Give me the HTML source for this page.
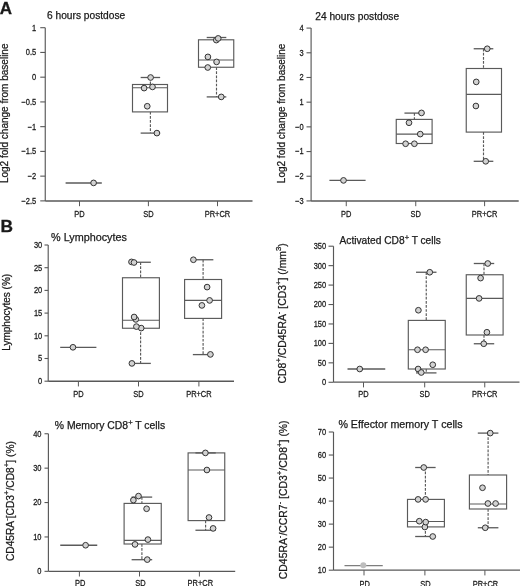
<!DOCTYPE html>
<html><head><meta charset="utf-8"><title>Figure</title>
<style>
html,body{margin:0;padding:0;background:#fff;}
body{width:520px;height:586px;overflow:hidden;}
svg{display:block;}
text{font-family:'Liberation Sans', Arial, Helvetica, sans-serif;fill:#1a1a1a;stroke:#1a1a1a;stroke-width:0.25px;}
</style></head>
<body>
<svg width="520" height="586" viewBox="0 0 520 586">
<rect width="520" height="586" fill="#fff"/>
<text x="-0.20" y="13.60" font-size="17" text-anchor="start" font-weight="bold" style="stroke-width:0.3px">A</text>
<text x="0.60" y="232.20" font-size="17.3" text-anchor="start" font-weight="bold" style="stroke-width:0.3px">B</text>
<line x1="45.25" y1="27.70" x2="45.25" y2="201.00" stroke="#585858" stroke-width="1.15"/>
<line x1="45.25" y1="201.00" x2="252.50" y2="201.00" stroke="#585858" stroke-width="1.3"/>
<line x1="40.25" y1="27.70" x2="45.25" y2="27.70" stroke="#585858" stroke-width="1.1"/>
<text x="0" y="0" font-size="8.4" text-anchor="end" transform="translate(36.20,30.60) scale(0.89,1)">1</text>
<line x1="40.25" y1="52.44" x2="45.25" y2="52.44" stroke="#585858" stroke-width="1.1"/>
<text x="0" y="0" font-size="8.4" text-anchor="end" transform="translate(36.20,55.34) scale(0.89,1)">0.5</text>
<line x1="40.25" y1="77.18" x2="45.25" y2="77.18" stroke="#585858" stroke-width="1.1"/>
<text x="0" y="0" font-size="8.4" text-anchor="end" transform="translate(36.20,80.08) scale(0.89,1)">0</text>
<line x1="40.25" y1="101.92" x2="45.25" y2="101.92" stroke="#585858" stroke-width="1.1"/>
<text x="0" y="0" font-size="8.4" text-anchor="end" transform="translate(36.20,104.82) scale(0.89,1)">−0.5</text>
<line x1="40.25" y1="126.66" x2="45.25" y2="126.66" stroke="#585858" stroke-width="1.1"/>
<text x="0" y="0" font-size="8.4" text-anchor="end" transform="translate(36.20,129.56) scale(0.89,1)">−1</text>
<line x1="40.25" y1="151.40" x2="45.25" y2="151.40" stroke="#585858" stroke-width="1.1"/>
<text x="0" y="0" font-size="8.4" text-anchor="end" transform="translate(36.20,154.30) scale(0.89,1)">−1.5</text>
<line x1="40.25" y1="176.14" x2="45.25" y2="176.14" stroke="#585858" stroke-width="1.1"/>
<text x="0" y="0" font-size="8.4" text-anchor="end" transform="translate(36.20,179.04) scale(0.89,1)">−2</text>
<line x1="40.25" y1="200.88" x2="45.25" y2="200.88" stroke="#585858" stroke-width="1.1"/>
<text x="0" y="0" font-size="8.4" text-anchor="end" transform="translate(36.20,203.78) scale(0.89,1)">−2.5</text>
<line x1="79.50" y1="201.00" x2="79.50" y2="206.20" stroke="#585858" stroke-width="1.0"/>
<text x="0" y="0" font-size="8.4" text-anchor="middle" transform="translate(79.50,217.10) scale(0.89,1)">PD</text>
<line x1="148.40" y1="201.00" x2="148.40" y2="206.20" stroke="#585858" stroke-width="1.0"/>
<text x="0" y="0" font-size="8.4" text-anchor="middle" transform="translate(148.40,217.10) scale(0.89,1)">SD</text>
<line x1="217.50" y1="201.00" x2="217.50" y2="206.20" stroke="#585858" stroke-width="1.0"/>
<text x="0" y="0" font-size="8.4" text-anchor="middle" transform="translate(217.50,217.10) scale(0.89,1)">PR+CR</text>
<text x="47.00" y="18.80" font-size="10.2" text-anchor="start" font-weight="normal">6 hours postdose</text>
<text x="0" y="0" font-size="10" text-anchor="middle" transform="translate(7.90,113.30) rotate(-90)">Log2 fold change from baseline</text>
<line x1="65.60" y1="183.00" x2="101.80" y2="183.00" stroke="#5a5a5a" stroke-width="1.3"/>
<circle cx="93.60" cy="182.90" r="2.85" fill="#d2d2d2" stroke="#333333" stroke-width="1.0"/>
<line x1="150.40" y1="77.50" x2="150.40" y2="84.50" stroke="#5a5a5a" stroke-width="1.15" stroke-dasharray="2.7 1.4"/>
<line x1="140.65" y1="77.50" x2="160.15" y2="77.50" stroke="#5a5a5a" stroke-width="1.3"/>
<line x1="150.40" y1="111.90" x2="150.40" y2="133.10" stroke="#5a5a5a" stroke-width="1.15" stroke-dasharray="2.7 1.4"/>
<line x1="140.65" y1="133.10" x2="160.15" y2="133.10" stroke="#5a5a5a" stroke-width="1.3"/>
<rect x="132.50" y="84.50" width="35.00" height="27.40" fill="none" stroke="#5a5a5a" stroke-width="1.15"/>
<line x1="132.50" y1="87.75" x2="167.50" y2="87.75" stroke="#5a5a5a" stroke-width="1.2"/>
<circle cx="150.60" cy="77.50" r="2.85" fill="#d2d2d2" stroke="#333333" stroke-width="1.0"/>
<circle cx="144.10" cy="88.10" r="2.85" fill="#d2d2d2" stroke="#333333" stroke-width="1.0"/>
<circle cx="152.50" cy="86.90" r="2.85" fill="#d2d2d2" stroke="#333333" stroke-width="1.0"/>
<circle cx="147.25" cy="106.25" r="2.85" fill="#d2d2d2" stroke="#333333" stroke-width="1.0"/>
<circle cx="156.90" cy="133.10" r="2.85" fill="#d2d2d2" stroke="#333333" stroke-width="1.0"/>
<line x1="216.50" y1="37.50" x2="216.50" y2="39.80" stroke="#5a5a5a" stroke-width="1.15" stroke-dasharray="2.7 1.4"/>
<line x1="206.69" y1="37.50" x2="226.31" y2="37.50" stroke="#5a5a5a" stroke-width="1.3"/>
<line x1="216.50" y1="67.25" x2="216.50" y2="96.90" stroke="#5a5a5a" stroke-width="1.15" stroke-dasharray="2.7 1.4"/>
<line x1="206.69" y1="96.90" x2="226.31" y2="96.90" stroke="#5a5a5a" stroke-width="1.3"/>
<rect x="198.50" y="39.80" width="35.25" height="27.45" fill="none" stroke="#5a5a5a" stroke-width="1.15"/>
<line x1="198.50" y1="60.00" x2="233.75" y2="60.00" stroke="#5a5a5a" stroke-width="1.2"/>
<circle cx="216.30" cy="40.10" r="2.85" fill="#d2d2d2" stroke="#333333" stroke-width="1.0"/>
<circle cx="218.20" cy="38.40" r="2.85" fill="#d2d2d2" stroke="#333333" stroke-width="1.0"/>
<circle cx="207.90" cy="56.90" r="2.85" fill="#d2d2d2" stroke="#333333" stroke-width="1.0"/>
<circle cx="216.60" cy="61.90" r="2.85" fill="#d2d2d2" stroke="#333333" stroke-width="1.0"/>
<circle cx="207.75" cy="67.50" r="2.85" fill="#d2d2d2" stroke="#333333" stroke-width="1.0"/>
<circle cx="221.25" cy="96.90" r="2.85" fill="#d2d2d2" stroke="#333333" stroke-width="1.0"/>
<line x1="311.10" y1="28.10" x2="311.10" y2="201.00" stroke="#585858" stroke-width="1.15"/>
<line x1="311.10" y1="201.00" x2="518.70" y2="201.00" stroke="#585858" stroke-width="1.3"/>
<line x1="306.50" y1="28.10" x2="311.10" y2="28.10" stroke="#585858" stroke-width="1.1"/>
<text x="0" y="0" font-size="8.4" text-anchor="end" transform="translate(303.70,31.00) scale(0.89,1)">4</text>
<line x1="306.50" y1="52.79" x2="311.10" y2="52.79" stroke="#585858" stroke-width="1.1"/>
<text x="0" y="0" font-size="8.4" text-anchor="end" transform="translate(303.70,55.69) scale(0.89,1)">3</text>
<line x1="306.50" y1="77.48" x2="311.10" y2="77.48" stroke="#585858" stroke-width="1.1"/>
<text x="0" y="0" font-size="8.4" text-anchor="end" transform="translate(303.70,80.38) scale(0.89,1)">2</text>
<line x1="306.50" y1="102.17" x2="311.10" y2="102.17" stroke="#585858" stroke-width="1.1"/>
<text x="0" y="0" font-size="8.4" text-anchor="end" transform="translate(303.70,105.07) scale(0.89,1)">1</text>
<line x1="306.50" y1="126.86" x2="311.10" y2="126.86" stroke="#585858" stroke-width="1.1"/>
<text x="0" y="0" font-size="8.4" text-anchor="end" transform="translate(303.70,129.76) scale(0.89,1)">−0</text>
<line x1="306.50" y1="151.55" x2="311.10" y2="151.55" stroke="#585858" stroke-width="1.1"/>
<text x="0" y="0" font-size="8.4" text-anchor="end" transform="translate(303.70,154.45) scale(0.89,1)">−1</text>
<line x1="306.50" y1="176.24" x2="311.10" y2="176.24" stroke="#585858" stroke-width="1.1"/>
<text x="0" y="0" font-size="8.4" text-anchor="end" transform="translate(303.70,179.14) scale(0.89,1)">−2</text>
<line x1="306.50" y1="200.93" x2="311.10" y2="200.93" stroke="#585858" stroke-width="1.1"/>
<text x="0" y="0" font-size="8.4" text-anchor="end" transform="translate(303.70,203.83) scale(0.89,1)">−3</text>
<line x1="346.25" y1="201.00" x2="346.25" y2="206.20" stroke="#585858" stroke-width="1.0"/>
<text x="0" y="0" font-size="8.4" text-anchor="middle" transform="translate(346.25,216.90) scale(0.89,1)">PD</text>
<line x1="415.75" y1="201.00" x2="415.75" y2="206.20" stroke="#585858" stroke-width="1.0"/>
<text x="0" y="0" font-size="8.4" text-anchor="middle" transform="translate(415.75,216.90) scale(0.89,1)">SD</text>
<line x1="484.60" y1="201.00" x2="484.60" y2="206.20" stroke="#585858" stroke-width="1.0"/>
<text x="0" y="0" font-size="8.4" text-anchor="middle" transform="translate(484.60,216.90) scale(0.89,1)">PR+CR</text>
<text x="315.30" y="19.70" font-size="10.2" text-anchor="start" font-weight="normal">24 hours postdose</text>
<text x="0" y="0" font-size="10" text-anchor="middle" transform="translate(285.10,113.40) rotate(-90)">Log2 fold change from baseline</text>
<line x1="329.40" y1="180.40" x2="365.60" y2="180.40" stroke="#5a5a5a" stroke-width="1.3"/>
<circle cx="343.50" cy="180.40" r="2.85" fill="#d2d2d2" stroke="#333333" stroke-width="1.0"/>
<line x1="414.40" y1="113.10" x2="414.40" y2="119.40" stroke="#5a5a5a" stroke-width="1.15" stroke-dasharray="2.7 1.4"/>
<line x1="404.44" y1="113.10" x2="424.36" y2="113.10" stroke="#5a5a5a" stroke-width="1.3"/>
<rect x="396.25" y="119.40" width="35.85" height="24.10" fill="none" stroke="#5a5a5a" stroke-width="1.15"/>
<line x1="396.25" y1="134.10" x2="432.10" y2="134.10" stroke="#5a5a5a" stroke-width="1.2"/>
<circle cx="421.50" cy="112.90" r="2.85" fill="#d2d2d2" stroke="#333333" stroke-width="1.0"/>
<circle cx="409.00" cy="122.75" r="2.85" fill="#d2d2d2" stroke="#333333" stroke-width="1.0"/>
<circle cx="420.25" cy="134.10" r="2.85" fill="#d2d2d2" stroke="#333333" stroke-width="1.0"/>
<circle cx="405.60" cy="143.75" r="2.85" fill="#d2d2d2" stroke="#333333" stroke-width="1.0"/>
<circle cx="414.40" cy="143.75" r="2.85" fill="#d2d2d2" stroke="#333333" stroke-width="1.0"/>
<line x1="483.50" y1="48.75" x2="483.50" y2="68.50" stroke="#5a5a5a" stroke-width="1.15" stroke-dasharray="2.7 1.4"/>
<line x1="473.69" y1="48.75" x2="493.31" y2="48.75" stroke="#5a5a5a" stroke-width="1.3"/>
<line x1="483.50" y1="132.10" x2="483.50" y2="161.30" stroke="#5a5a5a" stroke-width="1.15" stroke-dasharray="2.7 1.4"/>
<line x1="473.69" y1="161.30" x2="493.31" y2="161.30" stroke="#5a5a5a" stroke-width="1.3"/>
<rect x="466.25" y="68.50" width="35.25" height="63.60" fill="none" stroke="#5a5a5a" stroke-width="1.15"/>
<line x1="466.25" y1="94.40" x2="501.50" y2="94.40" stroke="#5a5a5a" stroke-width="1.2"/>
<circle cx="487.25" cy="48.75" r="2.85" fill="#d2d2d2" stroke="#333333" stroke-width="1.0"/>
<circle cx="476.25" cy="81.90" r="2.85" fill="#d2d2d2" stroke="#333333" stroke-width="1.0"/>
<circle cx="475.90" cy="106.00" r="2.85" fill="#d2d2d2" stroke="#333333" stroke-width="1.0"/>
<circle cx="485.70" cy="161.30" r="2.85" fill="#d2d2d2" stroke="#333333" stroke-width="1.0"/>
<line x1="48.20" y1="245.00" x2="48.20" y2="381.25" stroke="#585858" stroke-width="1.15"/>
<line x1="48.20" y1="381.25" x2="234.00" y2="381.25" stroke="#585858" stroke-width="1.3"/>
<line x1="44.50" y1="245.00" x2="48.20" y2="245.00" stroke="#585858" stroke-width="1.1"/>
<text x="0" y="0" font-size="8.4" text-anchor="end" transform="translate(42.20,247.90) scale(0.89,1)">30</text>
<line x1="44.50" y1="267.70" x2="48.20" y2="267.70" stroke="#585858" stroke-width="1.1"/>
<text x="0" y="0" font-size="8.4" text-anchor="end" transform="translate(42.20,270.60) scale(0.89,1)">25</text>
<line x1="44.50" y1="290.40" x2="48.20" y2="290.40" stroke="#585858" stroke-width="1.1"/>
<text x="0" y="0" font-size="8.4" text-anchor="end" transform="translate(42.20,293.30) scale(0.89,1)">20</text>
<line x1="44.50" y1="313.10" x2="48.20" y2="313.10" stroke="#585858" stroke-width="1.1"/>
<text x="0" y="0" font-size="8.4" text-anchor="end" transform="translate(42.20,316.00) scale(0.89,1)">15</text>
<line x1="44.50" y1="335.80" x2="48.20" y2="335.80" stroke="#585858" stroke-width="1.1"/>
<text x="0" y="0" font-size="8.4" text-anchor="end" transform="translate(42.20,338.70) scale(0.89,1)">10</text>
<line x1="44.50" y1="358.50" x2="48.20" y2="358.50" stroke="#585858" stroke-width="1.1"/>
<text x="0" y="0" font-size="8.4" text-anchor="end" transform="translate(42.20,361.40) scale(0.89,1)">5</text>
<line x1="44.50" y1="381.20" x2="48.20" y2="381.20" stroke="#585858" stroke-width="1.1"/>
<text x="0" y="0" font-size="8.4" text-anchor="end" transform="translate(42.20,384.10) scale(0.89,1)">0</text>
<line x1="78.40" y1="381.25" x2="78.40" y2="386.45" stroke="#585858" stroke-width="1.0"/>
<text x="0" y="0" font-size="8.4" text-anchor="middle" transform="translate(78.40,396.50) scale(0.89,1)">PD</text>
<line x1="138.50" y1="381.25" x2="138.50" y2="386.45" stroke="#585858" stroke-width="1.0"/>
<text x="0" y="0" font-size="8.4" text-anchor="middle" transform="translate(138.50,396.50) scale(0.89,1)">SD</text>
<line x1="198.90" y1="381.25" x2="198.90" y2="386.45" stroke="#585858" stroke-width="1.0"/>
<text x="0" y="0" font-size="8.4" text-anchor="middle" transform="translate(198.90,396.50) scale(0.89,1)">PR+CR</text>
<text x="51.10" y="240.60" font-size="10.8" text-anchor="start" font-weight="normal">% Lymphocytes</text>
<text x="0" y="0" font-size="10" text-anchor="middle" transform="translate(9.90,312.30) rotate(-90)">Lymphocytes (%)</text>
<line x1="60.20" y1="347.30" x2="96.40" y2="347.30" stroke="#5a5a5a" stroke-width="1.3"/>
<circle cx="72.95" cy="347.30" r="2.85" fill="#d2d2d2" stroke="#333333" stroke-width="1.0"/>
<line x1="140.60" y1="262.25" x2="140.60" y2="277.75" stroke="#5a5a5a" stroke-width="1.15" stroke-dasharray="2.7 1.4"/>
<line x1="130.38" y1="262.25" x2="150.82" y2="262.25" stroke="#5a5a5a" stroke-width="1.3"/>
<line x1="140.60" y1="328.25" x2="140.60" y2="363.40" stroke="#5a5a5a" stroke-width="1.15" stroke-dasharray="2.7 1.4"/>
<line x1="130.38" y1="363.40" x2="150.82" y2="363.40" stroke="#5a5a5a" stroke-width="1.3"/>
<rect x="122.50" y="277.75" width="36.90" height="50.50" fill="none" stroke="#5a5a5a" stroke-width="1.15"/>
<line x1="122.50" y1="320.25" x2="159.40" y2="320.25" stroke="#5a5a5a" stroke-width="1.2"/>
<circle cx="131.50" cy="261.90" r="2.85" fill="#d2d2d2" stroke="#333333" stroke-width="1.0"/>
<circle cx="134.00" cy="262.50" r="2.85" fill="#d2d2d2" stroke="#333333" stroke-width="1.0"/>
<circle cx="135.80" cy="319.40" r="2.85" fill="#d2d2d2" stroke="#333333" stroke-width="1.0"/>
<circle cx="134.10" cy="317.00" r="2.85" fill="#d2d2d2" stroke="#333333" stroke-width="1.0"/>
<circle cx="141.20" cy="328.10" r="2.85" fill="#d2d2d2" stroke="#333333" stroke-width="1.0"/>
<circle cx="136.40" cy="326.60" r="2.85" fill="#d2d2d2" stroke="#333333" stroke-width="1.0"/>
<circle cx="131.90" cy="363.40" r="2.85" fill="#d2d2d2" stroke="#333333" stroke-width="1.0"/>
<line x1="203.10" y1="259.75" x2="203.10" y2="279.50" stroke="#5a5a5a" stroke-width="1.15" stroke-dasharray="2.7 1.4"/>
<line x1="192.85" y1="259.75" x2="213.35" y2="259.75" stroke="#5a5a5a" stroke-width="1.3"/>
<line x1="203.10" y1="318.40" x2="203.10" y2="354.60" stroke="#5a5a5a" stroke-width="1.15" stroke-dasharray="2.7 1.4"/>
<line x1="192.85" y1="354.60" x2="213.35" y2="354.60" stroke="#5a5a5a" stroke-width="1.3"/>
<rect x="184.60" y="279.50" width="37.00" height="38.90" fill="none" stroke="#5a5a5a" stroke-width="1.15"/>
<line x1="184.60" y1="300.40" x2="221.60" y2="300.40" stroke="#5a5a5a" stroke-width="1.2"/>
<circle cx="193.40" cy="259.75" r="2.85" fill="#d2d2d2" stroke="#333333" stroke-width="1.0"/>
<circle cx="207.10" cy="287.10" r="2.85" fill="#d2d2d2" stroke="#333333" stroke-width="1.0"/>
<circle cx="209.60" cy="300.40" r="2.85" fill="#d2d2d2" stroke="#333333" stroke-width="1.0"/>
<circle cx="201.90" cy="305.40" r="2.85" fill="#d2d2d2" stroke="#333333" stroke-width="1.0"/>
<circle cx="210.40" cy="354.40" r="2.85" fill="#d2d2d2" stroke="#333333" stroke-width="1.0"/>
<line x1="333.50" y1="246.20" x2="333.50" y2="382.20" stroke="#585858" stroke-width="1.15"/>
<line x1="333.50" y1="382.20" x2="519.50" y2="382.20" stroke="#585858" stroke-width="1.3"/>
<line x1="328.50" y1="246.20" x2="333.50" y2="246.20" stroke="#585858" stroke-width="1.1"/>
<text x="0" y="0" font-size="8.4" text-anchor="end" transform="translate(326.10,249.10) scale(0.89,1)">350</text>
<line x1="328.50" y1="265.64" x2="333.50" y2="265.64" stroke="#585858" stroke-width="1.1"/>
<text x="0" y="0" font-size="8.4" text-anchor="end" transform="translate(326.10,268.54) scale(0.89,1)">300</text>
<line x1="328.50" y1="285.08" x2="333.50" y2="285.08" stroke="#585858" stroke-width="1.1"/>
<text x="0" y="0" font-size="8.4" text-anchor="end" transform="translate(326.10,287.98) scale(0.89,1)">250</text>
<line x1="328.50" y1="304.52" x2="333.50" y2="304.52" stroke="#585858" stroke-width="1.1"/>
<text x="0" y="0" font-size="8.4" text-anchor="end" transform="translate(326.10,307.42) scale(0.89,1)">200</text>
<line x1="328.50" y1="323.96" x2="333.50" y2="323.96" stroke="#585858" stroke-width="1.1"/>
<text x="0" y="0" font-size="8.4" text-anchor="end" transform="translate(326.10,326.86) scale(0.89,1)">150</text>
<line x1="328.50" y1="343.40" x2="333.50" y2="343.40" stroke="#585858" stroke-width="1.1"/>
<text x="0" y="0" font-size="8.4" text-anchor="end" transform="translate(326.10,346.30) scale(0.89,1)">100</text>
<line x1="328.50" y1="362.84" x2="333.50" y2="362.84" stroke="#585858" stroke-width="1.1"/>
<text x="0" y="0" font-size="8.4" text-anchor="end" transform="translate(326.10,365.74) scale(0.89,1)">50</text>
<line x1="328.50" y1="382.28" x2="333.50" y2="382.28" stroke="#585858" stroke-width="1.1"/>
<text x="0" y="0" font-size="8.4" text-anchor="end" transform="translate(326.10,385.18) scale(0.89,1)">0</text>
<line x1="363.50" y1="382.20" x2="363.50" y2="387.40" stroke="#585858" stroke-width="1.0"/>
<text x="0" y="0" font-size="8.4" text-anchor="middle" transform="translate(363.50,396.50) scale(0.89,1)">PD</text>
<line x1="424.70" y1="382.20" x2="424.70" y2="387.40" stroke="#585858" stroke-width="1.0"/>
<text x="0" y="0" font-size="8.4" text-anchor="middle" transform="translate(424.70,396.50) scale(0.89,1)">SD</text>
<line x1="484.75" y1="382.20" x2="484.75" y2="387.40" stroke="#585858" stroke-width="1.0"/>
<text x="0" y="0" font-size="8.4" text-anchor="middle" transform="translate(484.75,396.50) scale(0.89,1)">PR+CR</text>
<text x="339.50" y="243.90" font-size="10.2" text-anchor="start" font-weight="normal">Activated CD8<tspan font-size="7.5" dy="-4.0">+</tspan><tspan dy="4.0"> T cells</tspan></text>
<text x="0" y="0" font-size="10.4" text-anchor="middle" transform="translate(285.80,313.30) rotate(-90)">CD8<tspan font-size="7.8" dy="-4.6">+</tspan><tspan dy="4.6">/CD45RA</tspan><tspan font-size="7.8" dy="-4.6">-</tspan><tspan dy="4.6"> [CD3</tspan><tspan font-size="7.8" dy="-4.6">+</tspan><tspan dy="4.6">] (/mm</tspan><tspan font-size="7.8" dy="-4.6">3</tspan><tspan dy="4.6">)</tspan></text>
<line x1="347.50" y1="369.00" x2="385.25" y2="369.00" stroke="#5a5a5a" stroke-width="1.3"/>
<circle cx="359.75" cy="369.00" r="2.85" fill="#d2d2d2" stroke="#333333" stroke-width="1.0"/>
<line x1="426.25" y1="272.25" x2="426.25" y2="320.40" stroke="#5a5a5a" stroke-width="1.15" stroke-dasharray="2.7 1.4"/>
<line x1="416.01" y1="272.25" x2="436.49" y2="272.25" stroke="#5a5a5a" stroke-width="1.3"/>
<line x1="426.25" y1="369.00" x2="426.25" y2="372.90" stroke="#5a5a5a" stroke-width="1.15" stroke-dasharray="2.7 1.4"/>
<line x1="416.01" y1="372.90" x2="436.49" y2="372.90" stroke="#5a5a5a" stroke-width="1.3"/>
<rect x="408.30" y="320.40" width="36.95" height="48.60" fill="none" stroke="#5a5a5a" stroke-width="1.15"/>
<line x1="408.30" y1="349.75" x2="445.25" y2="349.75" stroke="#5a5a5a" stroke-width="1.2"/>
<circle cx="429.75" cy="272.25" r="2.85" fill="#d2d2d2" stroke="#333333" stroke-width="1.0"/>
<circle cx="418.40" cy="310.25" r="2.85" fill="#d2d2d2" stroke="#333333" stroke-width="1.0"/>
<circle cx="417.50" cy="349.75" r="2.85" fill="#d2d2d2" stroke="#333333" stroke-width="1.0"/>
<circle cx="425.60" cy="349.75" r="2.85" fill="#d2d2d2" stroke="#333333" stroke-width="1.0"/>
<circle cx="432.75" cy="364.75" r="2.85" fill="#d2d2d2" stroke="#333333" stroke-width="1.0"/>
<circle cx="418.10" cy="369.00" r="2.85" fill="#d2d2d2" stroke="#333333" stroke-width="1.0"/>
<circle cx="421.25" cy="372.50" r="2.85" fill="#d2d2d2" stroke="#333333" stroke-width="1.0"/>
<line x1="484.00" y1="263.50" x2="484.00" y2="274.75" stroke="#5a5a5a" stroke-width="1.15" stroke-dasharray="2.7 1.4"/>
<line x1="473.79" y1="263.50" x2="494.21" y2="263.50" stroke="#5a5a5a" stroke-width="1.3"/>
<line x1="484.00" y1="335.00" x2="484.00" y2="343.75" stroke="#5a5a5a" stroke-width="1.15" stroke-dasharray="2.7 1.4"/>
<line x1="473.79" y1="343.75" x2="494.21" y2="343.75" stroke="#5a5a5a" stroke-width="1.3"/>
<rect x="466.25" y="274.75" width="36.85" height="60.25" fill="none" stroke="#5a5a5a" stroke-width="1.15"/>
<line x1="466.25" y1="298.40" x2="503.10" y2="298.40" stroke="#5a5a5a" stroke-width="1.2"/>
<circle cx="487.75" cy="263.50" r="2.85" fill="#d2d2d2" stroke="#333333" stroke-width="1.0"/>
<circle cx="480.60" cy="278.10" r="2.85" fill="#d2d2d2" stroke="#333333" stroke-width="1.0"/>
<circle cx="479.10" cy="298.40" r="2.85" fill="#d2d2d2" stroke="#333333" stroke-width="1.0"/>
<circle cx="486.90" cy="332.25" r="2.85" fill="#d2d2d2" stroke="#333333" stroke-width="1.0"/>
<circle cx="483.75" cy="343.75" r="2.85" fill="#d2d2d2" stroke="#333333" stroke-width="1.0"/>
<line x1="48.40" y1="433.75" x2="48.40" y2="571.30" stroke="#585858" stroke-width="1.15"/>
<line x1="48.40" y1="571.30" x2="235.20" y2="571.30" stroke="#585858" stroke-width="1.3"/>
<line x1="44.50" y1="433.75" x2="48.40" y2="433.75" stroke="#585858" stroke-width="1.1"/>
<text x="0" y="0" font-size="8.4" text-anchor="end" transform="translate(41.50,436.65) scale(0.89,1)">40</text>
<line x1="44.50" y1="468.15" x2="48.40" y2="468.15" stroke="#585858" stroke-width="1.1"/>
<text x="0" y="0" font-size="8.4" text-anchor="end" transform="translate(41.50,471.05) scale(0.89,1)">30</text>
<line x1="44.50" y1="502.55" x2="48.40" y2="502.55" stroke="#585858" stroke-width="1.1"/>
<text x="0" y="0" font-size="8.4" text-anchor="end" transform="translate(41.50,505.45) scale(0.89,1)">20</text>
<line x1="44.50" y1="536.95" x2="48.40" y2="536.95" stroke="#585858" stroke-width="1.1"/>
<text x="0" y="0" font-size="8.4" text-anchor="end" transform="translate(41.50,539.85) scale(0.89,1)">10</text>
<line x1="44.50" y1="571.35" x2="48.40" y2="571.35" stroke="#585858" stroke-width="1.1"/>
<text x="0" y="0" font-size="8.4" text-anchor="end" transform="translate(41.50,574.25) scale(0.89,1)">0</text>
<line x1="79.40" y1="571.30" x2="79.40" y2="576.50" stroke="#585858" stroke-width="1.0"/>
<text x="0" y="0" font-size="8.4" text-anchor="middle" transform="translate(80.30,586.20) scale(0.89,1)">PD</text>
<line x1="139.50" y1="571.30" x2="139.50" y2="576.50" stroke="#585858" stroke-width="1.0"/>
<text x="0" y="0" font-size="8.4" text-anchor="middle" transform="translate(140.40,586.20) scale(0.89,1)">SD</text>
<line x1="199.40" y1="571.30" x2="199.40" y2="576.50" stroke="#585858" stroke-width="1.0"/>
<text x="0" y="0" font-size="8.4" text-anchor="middle" transform="translate(200.30,586.20) scale(0.89,1)">PR+CR</text>
<text x="54.80" y="429.30" font-size="10.4" text-anchor="start" font-weight="normal">% Memory CD8<tspan font-size="7.6" dy="-4.0">+</tspan><tspan dy="4.0"> T cells</tspan></text>
<text x="0" y="0" font-size="10.2" text-anchor="middle" transform="translate(13.50,501.10) rotate(-90)">CD45RA<tspan font-size="7.8" dy="-4.8">-</tspan><tspan dy="4.8">[CD3</tspan><tspan font-size="7.8" dy="-4.8">+</tspan><tspan dy="4.8">/CD8</tspan><tspan font-size="7.8" dy="-4.8">+</tspan><tspan dy="4.8">] (%)</tspan></text>
<line x1="60.25" y1="545.25" x2="97.25" y2="545.25" stroke="#5a5a5a" stroke-width="1.3"/>
<circle cx="85.60" cy="545.25" r="2.85" fill="#d2d2d2" stroke="#333333" stroke-width="1.0"/>
<line x1="141.90" y1="497.10" x2="141.90" y2="503.40" stroke="#5a5a5a" stroke-width="1.15" stroke-dasharray="2.7 1.4"/>
<line x1="131.61" y1="497.10" x2="152.19" y2="497.10" stroke="#5a5a5a" stroke-width="1.3"/>
<line x1="141.90" y1="544.00" x2="141.90" y2="559.70" stroke="#5a5a5a" stroke-width="1.15" stroke-dasharray="2.7 1.4"/>
<line x1="131.61" y1="559.70" x2="152.19" y2="559.70" stroke="#5a5a5a" stroke-width="1.3"/>
<rect x="124.10" y="503.40" width="37.15" height="40.60" fill="none" stroke="#5a5a5a" stroke-width="1.15"/>
<line x1="124.10" y1="540.30" x2="161.25" y2="540.30" stroke="#5a5a5a" stroke-width="1.2"/>
<circle cx="133.40" cy="500.10" r="2.85" fill="#d2d2d2" stroke="#333333" stroke-width="1.0"/>
<circle cx="138.50" cy="496.10" r="2.85" fill="#d2d2d2" stroke="#333333" stroke-width="1.0"/>
<circle cx="146.60" cy="508.75" r="2.85" fill="#d2d2d2" stroke="#333333" stroke-width="1.0"/>
<circle cx="147.90" cy="539.60" r="2.85" fill="#d2d2d2" stroke="#333333" stroke-width="1.0"/>
<circle cx="135.00" cy="544.40" r="2.85" fill="#d2d2d2" stroke="#333333" stroke-width="1.0"/>
<circle cx="147.25" cy="559.60" r="2.85" fill="#d2d2d2" stroke="#333333" stroke-width="1.0"/>
<line x1="195.44" y1="452.90" x2="215.76" y2="452.90" stroke="#5a5a5a" stroke-width="1.3"/>
<line x1="205.60" y1="520.60" x2="205.60" y2="530.25" stroke="#5a5a5a" stroke-width="1.15" stroke-dasharray="2.7 1.4"/>
<line x1="195.44" y1="530.25" x2="215.76" y2="530.25" stroke="#5a5a5a" stroke-width="1.3"/>
<rect x="188.10" y="452.90" width="36.65" height="67.70" fill="none" stroke="#5a5a5a" stroke-width="1.15"/>
<line x1="188.10" y1="470.00" x2="224.75" y2="470.00" stroke="#5a5a5a" stroke-width="1.2"/>
<circle cx="205.40" cy="452.90" r="2.85" fill="#d2d2d2" stroke="#333333" stroke-width="1.0"/>
<circle cx="206.90" cy="470.00" r="2.85" fill="#d2d2d2" stroke="#333333" stroke-width="1.0"/>
<circle cx="209.00" cy="517.50" r="2.85" fill="#d2d2d2" stroke="#333333" stroke-width="1.0"/>
<circle cx="213.10" cy="528.40" r="2.85" fill="#d2d2d2" stroke="#333333" stroke-width="1.0"/>
<line x1="333.50" y1="432.00" x2="333.50" y2="570.20" stroke="#585858" stroke-width="1.15"/>
<line x1="333.50" y1="570.20" x2="520.50" y2="570.20" stroke="#585858" stroke-width="1.3"/>
<line x1="328.80" y1="432.00" x2="333.50" y2="432.00" stroke="#585858" stroke-width="1.1"/>
<text x="0" y="0" font-size="8.4" text-anchor="end" transform="translate(326.10,434.90) scale(0.89,1)">70</text>
<line x1="328.80" y1="455.03" x2="333.50" y2="455.03" stroke="#585858" stroke-width="1.1"/>
<text x="0" y="0" font-size="8.4" text-anchor="end" transform="translate(326.10,457.93) scale(0.89,1)">60</text>
<line x1="328.80" y1="478.06" x2="333.50" y2="478.06" stroke="#585858" stroke-width="1.1"/>
<text x="0" y="0" font-size="8.4" text-anchor="end" transform="translate(326.10,480.96) scale(0.89,1)">50</text>
<line x1="328.80" y1="501.09" x2="333.50" y2="501.09" stroke="#585858" stroke-width="1.1"/>
<text x="0" y="0" font-size="8.4" text-anchor="end" transform="translate(326.10,503.99) scale(0.89,1)">40</text>
<line x1="328.80" y1="524.12" x2="333.50" y2="524.12" stroke="#585858" stroke-width="1.1"/>
<text x="0" y="0" font-size="8.4" text-anchor="end" transform="translate(326.10,527.02) scale(0.89,1)">30</text>
<line x1="328.80" y1="547.15" x2="333.50" y2="547.15" stroke="#585858" stroke-width="1.1"/>
<text x="0" y="0" font-size="8.4" text-anchor="end" transform="translate(326.10,550.05) scale(0.89,1)">20</text>
<line x1="328.80" y1="570.18" x2="333.50" y2="570.18" stroke="#585858" stroke-width="1.1"/>
<text x="0" y="0" font-size="8.4" text-anchor="end" transform="translate(326.10,573.08) scale(0.89,1)">10</text>
<line x1="364.00" y1="570.20" x2="364.00" y2="575.40" stroke="#585858" stroke-width="1.0"/>
<text x="0" y="0" font-size="8.4" text-anchor="middle" transform="translate(364.60,586.50) scale(0.89,1)">PD</text>
<line x1="424.90" y1="570.20" x2="424.90" y2="575.40" stroke="#585858" stroke-width="1.0"/>
<text x="0" y="0" font-size="8.4" text-anchor="middle" transform="translate(425.50,586.50) scale(0.89,1)">SD</text>
<line x1="484.90" y1="570.20" x2="484.90" y2="575.40" stroke="#585858" stroke-width="1.0"/>
<text x="0" y="0" font-size="8.4" text-anchor="middle" transform="translate(485.50,586.50) scale(0.89,1)">PR+CR</text>
<text x="338.40" y="428.30" font-size="10.7" text-anchor="start" font-weight="normal">% Effector memory T cells</text>
<text x="0" y="0" font-size="10.4" text-anchor="middle" transform="translate(286.50,499.80) rotate(-90)">CD45RA<tspan font-size="7.8" dy="-4.8">-</tspan><tspan dy="4.8">/CCR7</tspan><tspan font-size="7.8" dy="-4.8">-</tspan><tspan dy="4.8"> [CD3</tspan><tspan font-size="7.8" dy="-4.8">+</tspan><tspan dy="4.8">/CD8</tspan><tspan font-size="7.8" dy="-4.8">+</tspan><tspan dy="4.8">] (%)</tspan></text>
<line x1="344.50" y1="565.70" x2="382.75" y2="565.70" stroke="#7e7e7e" stroke-width="1.3"/>
<circle cx="363.30" cy="565.20" r="3.0" fill="#bdbdbd"/>
<line x1="425.40" y1="467.50" x2="425.40" y2="499.40" stroke="#5a5a5a" stroke-width="1.15" stroke-dasharray="2.7 1.4"/>
<line x1="415.17" y1="467.50" x2="435.62" y2="467.50" stroke="#5a5a5a" stroke-width="1.3"/>
<line x1="425.40" y1="526.90" x2="425.40" y2="536.50" stroke="#5a5a5a" stroke-width="1.15" stroke-dasharray="2.7 1.4"/>
<line x1="415.17" y1="536.50" x2="435.62" y2="536.50" stroke="#5a5a5a" stroke-width="1.3"/>
<rect x="407.50" y="499.40" width="36.90" height="27.50" fill="none" stroke="#5a5a5a" stroke-width="1.15"/>
<line x1="407.50" y1="521.50" x2="444.40" y2="521.50" stroke="#5a5a5a" stroke-width="1.2"/>
<circle cx="423.75" cy="467.50" r="2.85" fill="#d2d2d2" stroke="#333333" stroke-width="1.0"/>
<circle cx="418.10" cy="499.40" r="2.85" fill="#d2d2d2" stroke="#333333" stroke-width="1.0"/>
<circle cx="425.60" cy="499.40" r="2.85" fill="#d2d2d2" stroke="#333333" stroke-width="1.0"/>
<circle cx="419.30" cy="521.20" r="2.85" fill="#d2d2d2" stroke="#333333" stroke-width="1.0"/>
<circle cx="424.85" cy="527.00" r="2.85" fill="#d2d2d2" stroke="#333333" stroke-width="1.0"/>
<circle cx="425.70" cy="522.10" r="2.85" fill="#d2d2d2" stroke="#333333" stroke-width="1.0"/>
<circle cx="432.75" cy="536.50" r="2.85" fill="#d2d2d2" stroke="#333333" stroke-width="1.0"/>
<line x1="488.10" y1="433.10" x2="488.10" y2="475.00" stroke="#5a5a5a" stroke-width="1.15" stroke-dasharray="2.7 1.4"/>
<line x1="477.80" y1="433.10" x2="498.40" y2="433.10" stroke="#5a5a5a" stroke-width="1.3"/>
<line x1="488.10" y1="509.00" x2="488.10" y2="527.75" stroke="#5a5a5a" stroke-width="1.15" stroke-dasharray="2.7 1.4"/>
<line x1="477.80" y1="527.75" x2="498.40" y2="527.75" stroke="#5a5a5a" stroke-width="1.3"/>
<rect x="469.40" y="475.00" width="37.20" height="34.00" fill="none" stroke="#5a5a5a" stroke-width="1.15"/>
<line x1="469.40" y1="504.00" x2="506.60" y2="504.00" stroke="#5a5a5a" stroke-width="1.2"/>
<circle cx="490.25" cy="433.10" r="2.85" fill="#d2d2d2" stroke="#333333" stroke-width="1.0"/>
<circle cx="482.50" cy="487.75" r="2.85" fill="#d2d2d2" stroke="#333333" stroke-width="1.0"/>
<circle cx="487.90" cy="503.50" r="2.85" fill="#d2d2d2" stroke="#333333" stroke-width="1.0"/>
<circle cx="495.60" cy="503.50" r="2.85" fill="#d2d2d2" stroke="#333333" stroke-width="1.0"/>
<circle cx="485.25" cy="527.75" r="2.85" fill="#d2d2d2" stroke="#333333" stroke-width="1.0"/>
</svg>
</body></html>
